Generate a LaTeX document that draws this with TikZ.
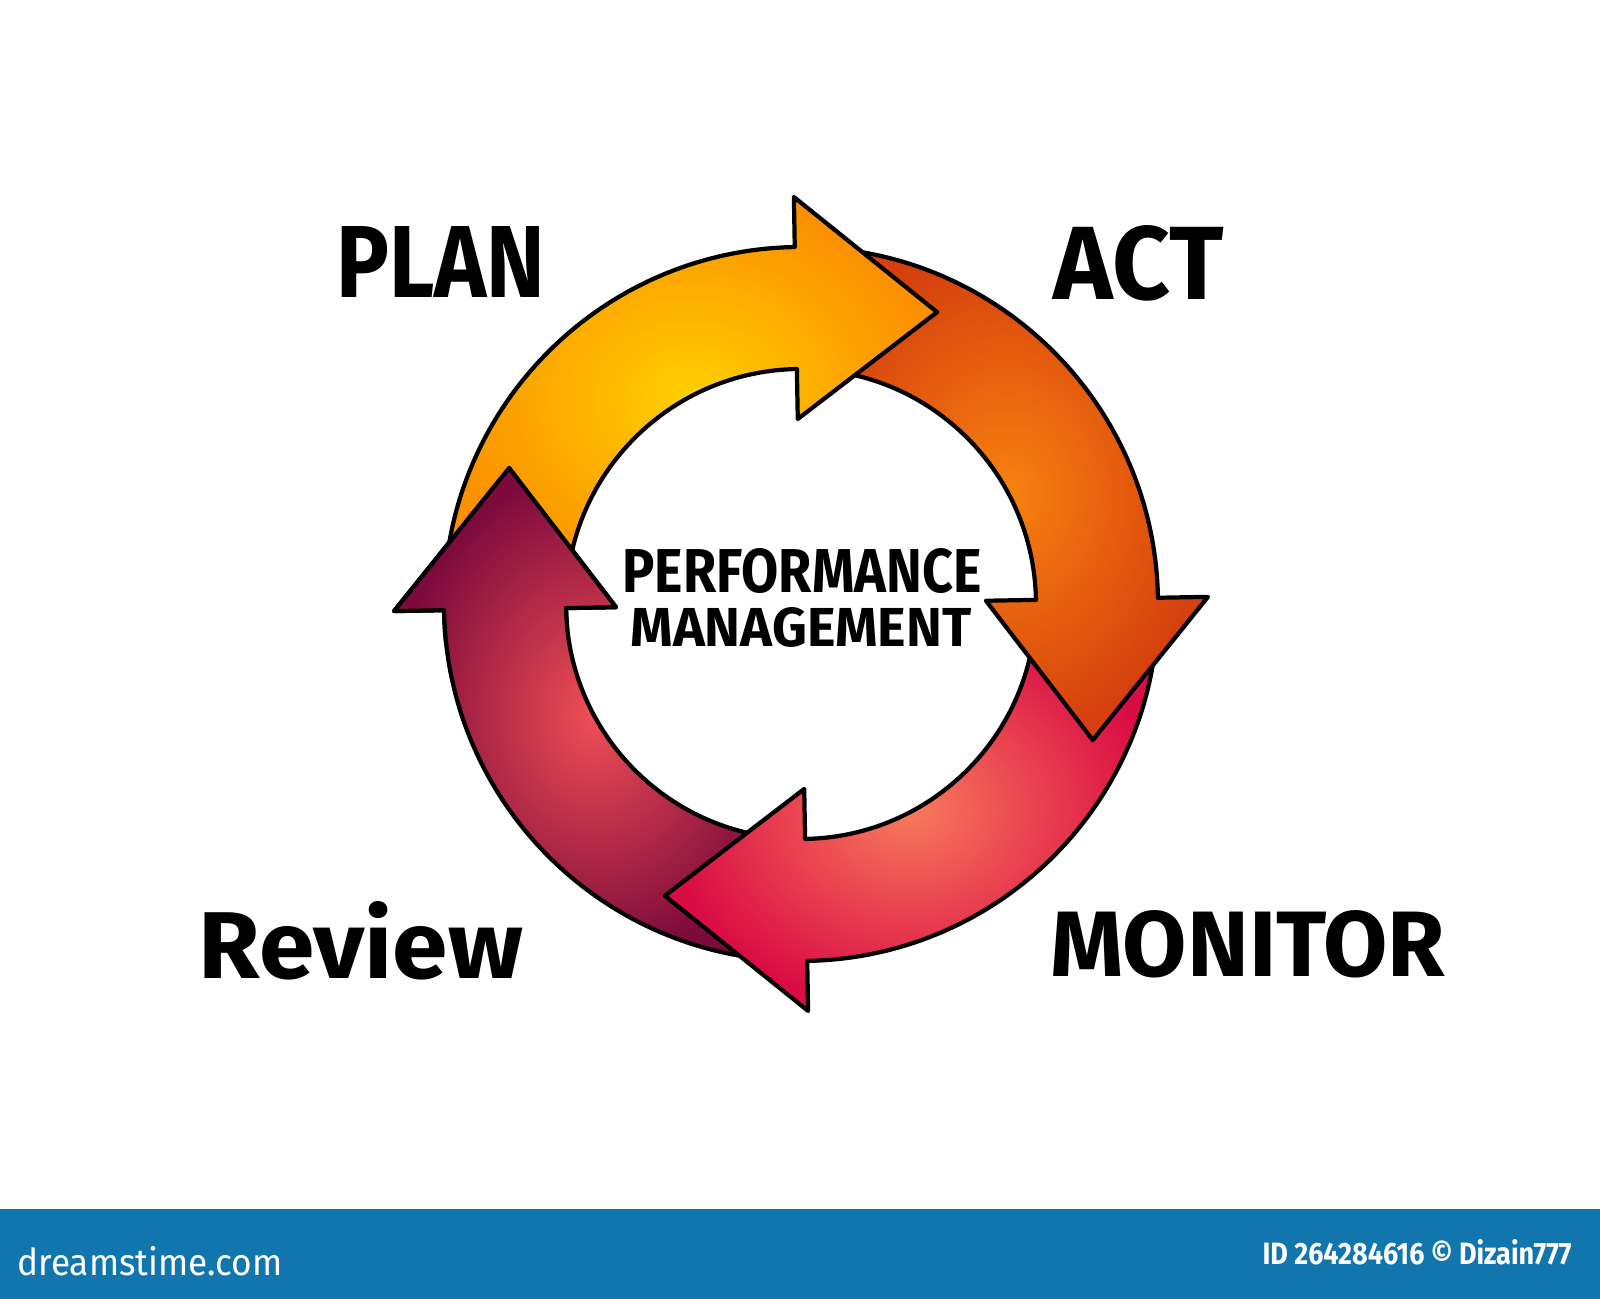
\documentclass[tikz,border=0pt]{standalone}
\usepackage{fontspec}
\setmainfont{Fira Sans}
\usepackage{graphicx}

\definecolor{planin}{HTML}{FFD000}
\definecolor{planout}{HTML}{FB9000}
\definecolor{actin}{HTML}{F8820F}
\definecolor{actout}{HTML}{D6400E}
\definecolor{monin}{HTML}{F87A5C}
\definecolor{monout}{HTML}{DA0C44}
\definecolor{revin}{HTML}{F04F55}
\definecolor{revout}{HTML}{7C0A3C}
\definecolor{barblue}{HTML}{1276AE}

\begin{document}
\begin{tikzpicture}[x=0.1mm,y=0.1mm,
every node/.style={inner sep=0pt,font=\bfseries},
arrowring/.style={draw=black,line width=1.2pt,line join=round},
bartext/.style={text=white}]
\useasboundingbox (-801,-695) rectangle (799,604);
\fill[white] (-801,-695) rectangle (799,604);

% review, monitor, act, plan: each head lies on the next body
\shade[arrowring,inner color=revin,outer color=revout]
 (269:235) arc[start angle=269,end angle=181,radius=235] -- (181:185) -- (155:322) -- (181:407) -- (181:357)
 arc[start angle=181,end angle=269,radius=357] -- cycle;
\shade[arrowring,inner color=monin,outer color=monout]
 (-1:235) arc[start angle=-1,end angle=-89,radius=235] -- (-89:185) -- (-115:322) -- (-89:407) -- (-89:357)
 arc[start angle=-89,end angle=-1,radius=357] -- cycle;
\shade[arrowring,inner color=actin,outer color=actout]
 (89:235) arc[start angle=89,end angle=1,radius=235] -- (1:185) -- (-25:322) -- (1:407) -- (1:357)
 arc[start angle=1,end angle=89,radius=357] -- cycle;
\shade[arrowring,inner color=planin,outer color=planout]
 (179:235) arc[start angle=179,end angle=91,radius=235] -- (91:185) -- (65:322) -- (91:407) -- (91:357)
 arc[start angle=91,end angle=179,radius=357] -- cycle;
% review head again, over the plan tail
\begin{scope}
\clip (0,0) -- (140:520) arc[start angle=140,end angle=186,radius=520] -- cycle;
\shade[arrowring,inner color=revin,outer color=revout]
 (269:235) arc[start angle=269,end angle=181,radius=235] -- (181:185) -- (155:322) -- (181:407) -- (181:357)
 arc[start angle=181,end angle=269,radius=357] -- cycle;
\end{scope}

\node (plan) at (-360,342) {\resizebox{20.9mm}{7.1mm}{PLAN}};
\node (act) at (338,341) {\resizebox{17mm}{7.4mm}{ACT}};
\node (review) at (-440,-337) {\resizebox{32.4mm}{7.7mm}{Review}};
\node (monitor) at (447,-340) {\resizebox{39.5mm}{6.6mm}{MONITOR}};
\node (perf) at (1,33) {\resizebox{35.9mm}{4.4mm}{PERFORMANCE}};
\node (mgmt) at (0,-23) {\resizebox{34.1mm}{3.9mm}{MANAGEMENT}};

\fill[barblue] (-801,-695) rectangle (799,-605);
\node[bartext,font=\normalfont] (site) at (-651,-657) {\resizebox{26.5mm}{2.9mm}{dreamstime.com}};
\node[bartext] (imgid) at (616,-648) {\resizebox{30.9mm}{2.5mm}{ID 264284616 © Dizain777}};
\end{tikzpicture}
\end{document}
